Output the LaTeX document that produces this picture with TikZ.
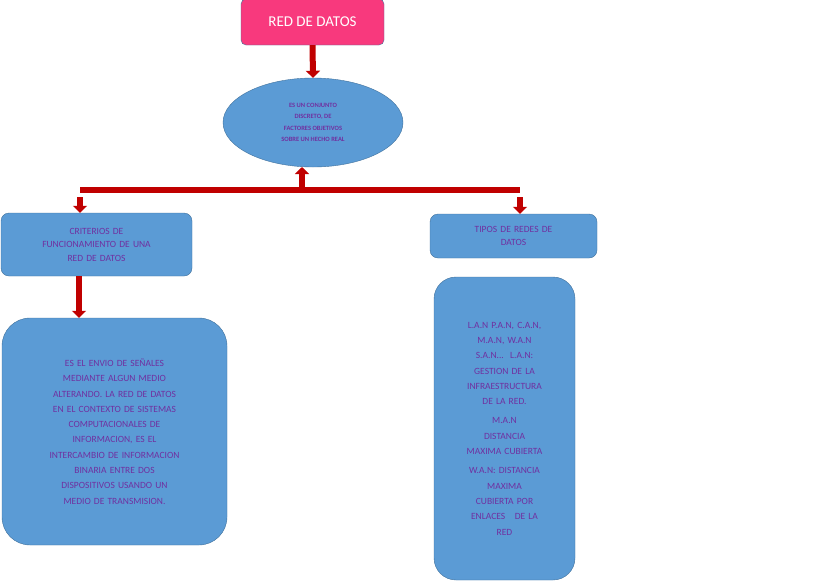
\documentclass[tikz,border=0pt]{standalone}
\usepackage{fontspec}
\setmainfont{Carlito}
\usetikzlibrary{shapes.geometric,arrows.meta}
\definecolor{boxblue}{HTML}{5B9BD5}
\definecolor{edgeblue}{HTML}{41719C}
\definecolor{txtpurple}{HTML}{7030A0}
\definecolor{pinkbox}{HTML}{F8397D}
\definecolor{arrred}{HTML}{C00000}
\tikzset{
  bluebox/.style={draw=edgeblue,fill=boxblue,rounded corners=8pt,text=txtpurple,align=center,font=\fontsize{9.5}{13.5}\selectfont,inner sep=2pt},
  redarr/.style={draw=arrred,line width=6pt,-{Triangle[width=14pt,length=7pt]}},
  redbar/.style={draw=arrred,line width=6pt}
}
\begin{document}
\begin{tikzpicture}[x=1pt,y=-1pt]
\useasboundingbox (0,0) rectangle (819,581);
\node[draw=edgeblue,fill=pinkbox,rounded corners=5pt,minimum width=143pt,minimum height=46pt,text=white,font=\fontsize{15}{18}\selectfont] (title) at (312.5,22) {RED DE DATOS};
\node[ellipse,draw=edgeblue,fill=boxblue,minimum width=180pt,minimum height=89pt,text=txtpurple,align=center,font=\bfseries\fontsize{6.5}{11.5}\selectfont,inner sep=0pt] (ell) at (313,122.5) {ES UN CONJUNTO\\DISCRETO, DE\\FACTORES OBJETIVOS\\SOBRE UN HECHO REAL};
\node[bluebox,minimum width=191pt,minimum height=63pt,text width=180pt] (crit) at (96.5,244.5) {CRITERIOS DE\\FUNCIONAMIENTO DE UNA\\RED DE DATOS};
\node[bluebox,minimum width=167pt,minimum height=44pt,text width=150pt] (tipos) at (513.5,236) {TIPOS DE REDES DE\\DATOS};
\node[bluebox,rounded corners=28pt,minimum width=225pt,minimum height=227pt,text width=200pt,font=\fontsize{9.5}{15.3}\selectfont] (envio) at (114.5,431.5) {ES EL ENVIO DE SEÑALES\\MEDIANTE ALGUN MEDIO\\ALTERANDO. LA RED DE DATOS\\EN EL CONTEXTO DE SISTEMAS\\COMPUTACIONALES DE\\INFORMACION, ES EL\\INTERCAMBIO DE INFORMACION\\BINARIA ENTRE DOS\\DISPOSITIVOS USANDO UN\\MEDIO DE TRANSMISION.};
\node[bluebox,rounded corners=22pt,minimum width=141pt,minimum height=303pt,text width=130pt,font=\fontsize{9.5}{15.3}\selectfont] (tiposlist) at (504.5,428.5) {L.A.N P.A.N, C.A.N,\\M.A.N, W.A.N\\S.A.N...\ \ L.A.N:\\GESTION DE LA\\INFRAESTRUCTURA\\DE LA RED.\\[4pt]M.A.N\\DISTANCIA\\MAXIMA CUBIERTA\\[4pt]W.A.N: DISTANCIA\\MAXIMA\\CUBIERTA POR\\ENLACES\ \ \ DE LA\\RED};
\coordinate (bl) at (80,190);
\coordinate (br) at (520,190);
\coordinate (bm) at (302,190);
\draw[redarr] (title.south) -- (ell.north);
\draw[redbar] (bl) -- (br);
\draw[redarr] (bm) -- (302,167);
\draw[redarr] ([yshift=-7pt]bl) -- (crit.north -| bl);
\draw[redarr] ([yshift=-7pt]br) -- (tipos.north -| br);
\draw[redarr] (crit.south -| 79,0) -- (envio.north -| 79,0);
\end{tikzpicture}
\end{document}
